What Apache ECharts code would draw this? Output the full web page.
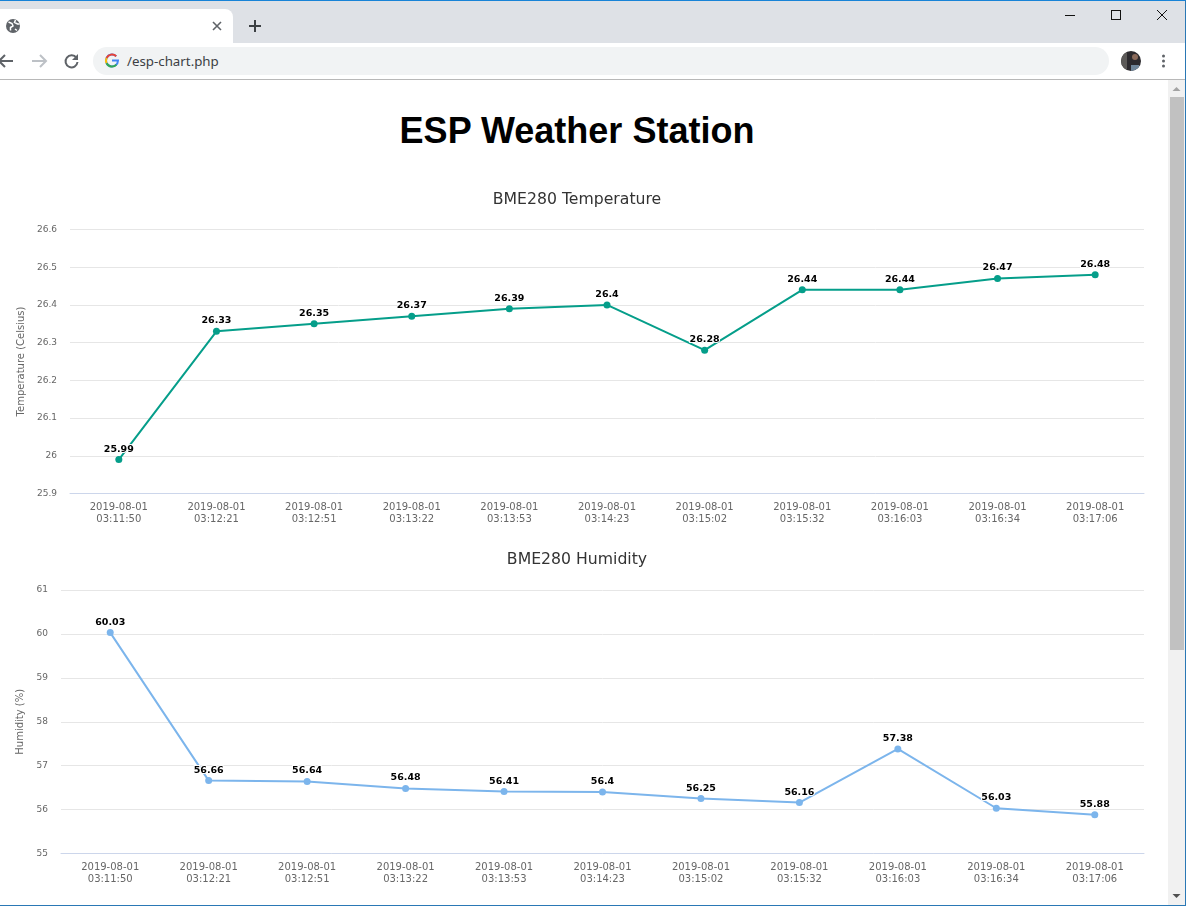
<!DOCTYPE html>
<html>
<head>
<meta charset="utf-8">
<title>ESP Weather Station</title>
<script src="https://cdn.jsdelivr.net/npm/echarts@6/dist/echarts.min.js"></script>
<style>
  html, body { margin: 0; padding: 0; width: 1186px; height: 906px; overflow: hidden; background: #fff; }
  .abs { position: absolute; }
  #frame { left: 0; top: 0; width: 1185px; height: 904px; border: 1px solid #1883d7; border-left: none; border-bottom-color: #2a78b5; border-right-color: #2a78b5; z-index: 9; pointer-events: none; }
  #tabstrip { left: 0; top: 1px; width: 1186px; height: 42px; background: #dee1e6; }
  #tab { left: -10px; top: 9px; width: 243px; height: 34px; background: #fff; border-radius: 8px 8px 0 0; }
  #toolbar { left: 0; top: 43px; width: 1186px; height: 36px; background: #fff; border-bottom: 1px solid #b8b8b8; }
  #omnibox { left: 93px; top: 47px; width: 1016px; height: 28px; background: #f1f3f4; border-radius: 14px; }
  #url { left: 127px; top: 52px; font: 13.3px "Noto Sans", "Liberation Sans", sans-serif; color: #3c4043; line-height: 18px; }
  #sbtrack { left: 1168px; top: 80px; width: 17px; height: 825px; background: #f1f1f1; }
  #sbthumb { left: 1170px; top: 97px; width: 14px; height: 553px; background: #c1c1c1; }
  h1 { position: absolute; left: 0; top: 108px; width: 1154px; margin: 0; text-align: center;
       font: bold 36px "Liberation Sans", Arial, sans-serif; line-height: 46px; color: #000; }
  .chart { position: absolute; left: 0; width: 1154px; height: 360px; }
  svg { position: absolute; overflow: visible; }
</style>
</head>
<body>
<div id="tabstrip" class="abs"></div>
<div id="tab" class="abs"></div>
<div id="toolbar" class="abs"></div>
<div id="omnibox" class="abs"></div>
<div id="url" class="abs">/esp-chart.php</div>

<!-- browser icons -->
<svg class="abs" style="left:0;top:0" width="1186" height="90">
  <circle cx="13" cy="26" r="7" fill="#5f6368"/>
  <path d="M8.5 22 l3.5 1.5 1 2.5 -2.5 1.5 0 3 M15.5 20 l-1 2.5 3 1.5 2 0 M15 29 l2 1.5" stroke="#fff" stroke-width="1.5" fill="none"/>
  <path d="M213 22 l8 8 M221 22 l-8 8" stroke="#5f6368" stroke-width="1.6"/>
  <path d="M255 20 v12 M249 26 h12" stroke="#3c4043" stroke-width="2"/>
  <path d="M-1 61 h14 M5 55 l-6 6 6 6" stroke="#5f6368" stroke-width="2" fill="none"/>
  <path d="M32 61 h14 M40 55 l6 6 -6 6" stroke="#bdc1c6" stroke-width="2" fill="none"/>
  <path d="M76.5 58 a6 6 0 1 0 1 4" stroke="#5f6368" stroke-width="2" fill="none"/>
  <path d="M78 54 v6 h-6 z" fill="#5f6368"/>
  <g transform="translate(-4 0)">
    <path d="M116 60.5 h6 a6 6 0 1 1 -1.8 -4.3" stroke="#4285f4" stroke-width="2" fill="none"/>
    <path d="M120.2 56.2 a6 6 0 0 0 -9.6 1.8" stroke="#ea4335" stroke-width="2" fill="none"/>
    <path d="M110.6 58 a6 6 0 0 0 0 5.2" stroke="#fbbc05" stroke-width="2" fill="none"/>
    <path d="M110.6 63.2 a6 6 0 0 0 9.8 1.4" stroke="#34a853" stroke-width="2" fill="none"/>
  </g>
  <path d="M1065 15.5 h10" stroke="#111" stroke-width="1"/>
  <rect x="1111.5" y="10.5" width="9" height="9" fill="none" stroke="#111"/>
  <path d="M1157 10 l10 10 M1167 10 l-10 10" stroke="#111" stroke-width="1"/>
  <clipPath id="avatar-clip"><circle cx="1131" cy="61" r="10"/></clipPath>
  <g clip-path="url(#avatar-clip)">
    <rect x="1121" y="51" width="20" height="20" fill="#2c2a2e"/>
    <rect x="1121" y="51" width="6" height="20" fill="#5c5a58"/>
    <circle cx="1135" cy="57" r="3" fill="#8a6a5a"/>
    <rect x="1131" y="65" width="8" height="6" fill="#6f8599"/>
  </g>
  <circle cx="1163.5" cy="56" r="1.5" fill="#5f6368"/>
  <circle cx="1163.5" cy="61" r="1.5" fill="#5f6368"/>
  <circle cx="1163.5" cy="66" r="1.5" fill="#5f6368"/>
</svg>

<div id="sbtrack" class="abs"></div>
<div id="sbthumb" class="abs"></div>
<svg class="abs" style="left:0;top:0" width="1186" height="906">
  <path d="M1176.5 87 l4 4 h-8 z" fill="#a3a3a3"/>
  <path d="M1172.5 894 h8 l-4 4 z" fill="#505050"/>
</svg>

<h1>ESP Weather Station</h1>
<div id="chart-temperature" class="chart" style="top:180px"></div>
<div id="chart-humidity" class="chart" style="top:540px"></div>
<div id="frame" class="abs"></div>

<script>
var readingTimes = ['2019-08-01\n03:11:50', '2019-08-01\n03:12:21', '2019-08-01\n03:12:51', '2019-08-01\n03:13:22',
  '2019-08-01\n03:13:53', '2019-08-01\n03:14:23', '2019-08-01\n03:15:02', '2019-08-01\n03:15:32',
  '2019-08-01\n03:16:03', '2019-08-01\n03:16:34', '2019-08-01\n03:17:06'];
var temperatureValues = [25.99, 26.33, 26.35, 26.37, 26.39, 26.4, 26.28, 26.44, 26.44, 26.47, 26.48];
var humidityValues = [60.03, 56.66, 56.64, 56.48, 56.41, 56.4, 56.25, 56.16, 57.38, 56.03, 55.88];

var FONT = '"DejaVu Sans", Verdana, sans-serif';

function drawChart(domId, opts)
{
  var chart = echarts.init(document.getElementById(domId));
  chart.setOption({
    animation: false,
    title: {
      text: opts.title, left: 'center', top: 7,
      textStyle: { fontFamily: FONT, fontSize: 15.7, fontWeight: 'normal', color: '#333' }
    },
    grid: { left: opts.left, right: 10, top: opts.top, height: opts.height },
    xAxis: {
      type: 'category',
      data: readingTimes,
      axisTick: { show: false },
      axisLine: { lineStyle: { color: '#ccd6eb' } },
      axisLabel: { interval: 0, margin: 8, fontFamily: FONT, fontSize: 10, lineHeight: 12, color: '#666' }
    },
    yAxis: {
      type: 'value',
      min: opts.min, max: opts.max, interval: opts.interval,
      name: opts.yName,
      nameLocation: 'middle',
      nameGap: opts.left - 26,
      nameTextStyle: { fontFamily: FONT, fontSize: 10, color: '#666' },
      axisLine: { show: false },
      axisTick: { show: false },
      axisLabel: { margin: 13, padding: [2, 0, 0, 0], fontFamily: FONT, fontSize: 9, color: '#666' },
      splitLine: { lineStyle: { color: '#e6e6e6' } }
    },
    series: [{
      type: 'line',
      data: opts.values,
      color: opts.color,
      symbol: 'circle',
      symbolSize: 7,
      lineStyle: { width: 2, color: opts.color },
      itemStyle: { color: opts.color },
      clip: false,
      label: {
        show: true, position: 'top', distance: 2,
        fontFamily: FONT, fontSize: 9.5, fontWeight: 'bold', color: '#000',
        textBorderColor: '#fff', textBorderWidth: 2
      }
    }]
  });
}

drawChart('chart-temperature', {
  title: 'BME280 Temperature', yName: 'Temperature (Celsius)', left: 70, top: 49.5, height: 264,
  min: 25.9, max: 26.6, interval: 0.1, values: temperatureValues, color: '#059e8a'
});
drawChart('chart-humidity', {
  title: 'BME280 Humidity', yName: 'Humidity (%)', left: 61, top: 50, height: 263.5,
  min: 55, max: 61, interval: 1, values: humidityValues, color: '#7cb5ec'
});
</script>
</body>
</html>
